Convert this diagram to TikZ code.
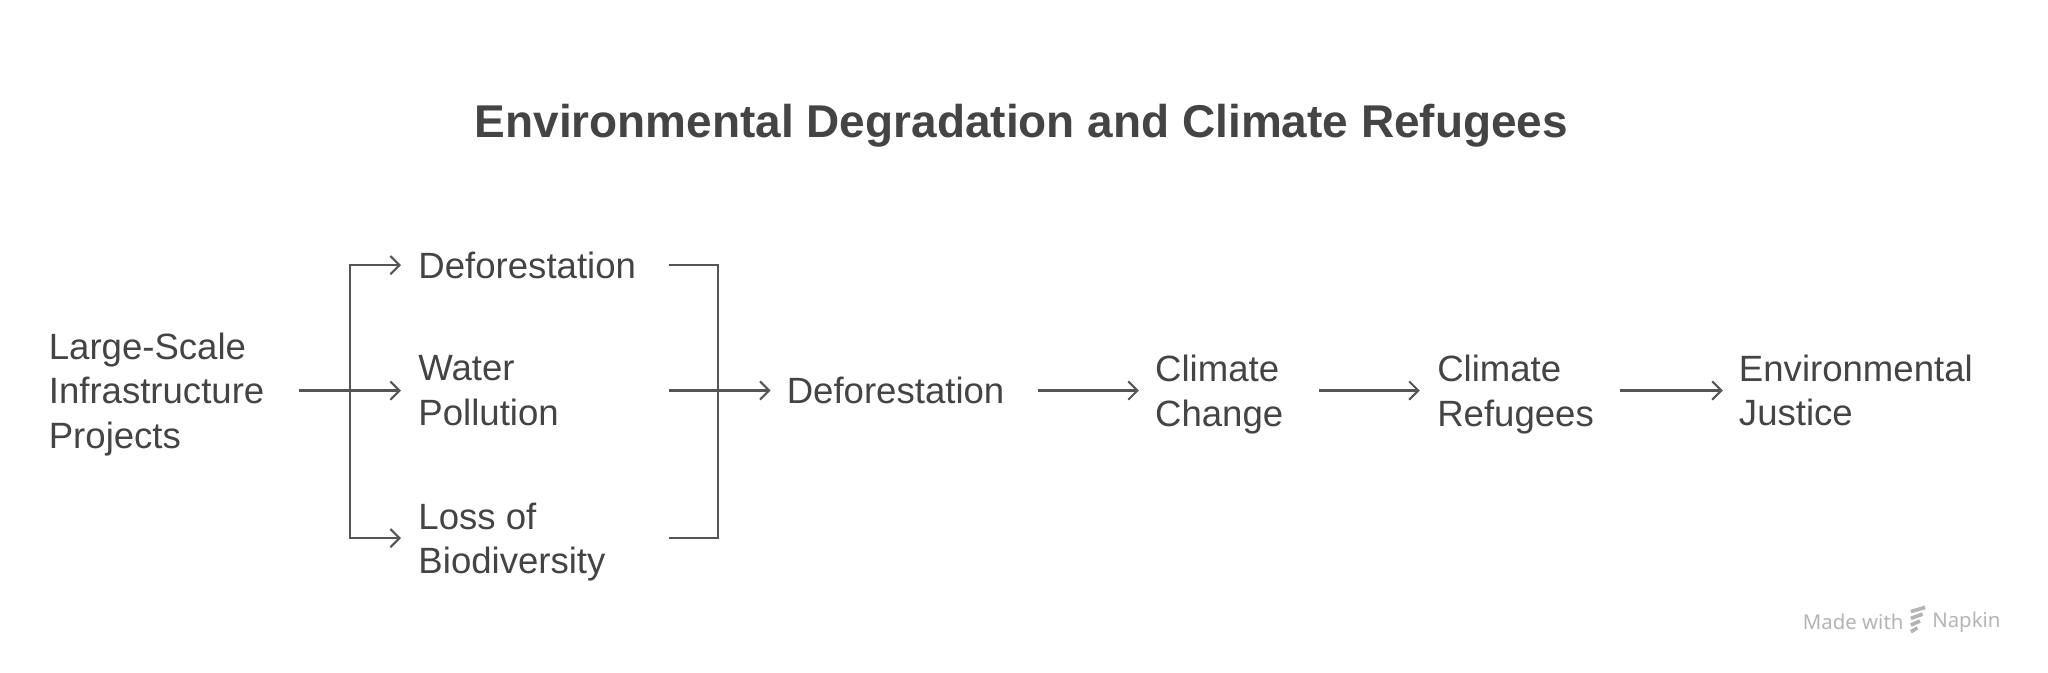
\documentclass[tikz,border=0pt]{standalone}
\usepackage{fontspec}
\setmainfont{Liberation Sans}
\newfontfamily\napkinfont{Noto Sans}
\usetikzlibrary{arrows.meta,positioning}
\definecolor{ink}{HTML}{444444}
\definecolor{wire}{HTML}{555555}
\definecolor{faint}{HTML}{B4B4B4}
\tikzset{
    %Define standard arrow tip
    >={Straight Barb[length=3.5pt,width=7pt]},
    %Define style for the labels
    factor/.style={
           anchor=west,
           align=left,
           inner sep=0pt,
           text=ink,
           font=\fontsize{14}{17}\selectfont},
    %labels whose last line has a descender
    lowfactor/.style={
           factor,
           yshift=-1.5pt},
    heading/.style={
           text=ink,
           inner sep=0pt,
           font=\fontsize{17.6}{21}\selectfont\bfseries},
    napkin/.style={
           anchor=west,
           inner sep=0pt,
           text=faint,
           font=\napkinfont\fontsize{7.8}{9}\selectfont},
    % Define arrow style
    flow/.style={
           ->,
           draw=wire,
           line width=0.8pt},
    bracket/.style={
           draw=wire,
           line width=0.8pt}
}

\begin{document}
\begin{tikzpicture}[x=0.5pt,y=-0.5pt]
\useasboundingbox (0,0) rectangle (1568,515);
 %title
\node[heading,anchor=base] (title) at (782,105) {Environmental Degradation and Climate Refugees};
 %nodes
\node[lowfactor] (src) at (37,299) {Large-Scale\\Infrastructure\\Projects};
\node[factor] (defo) at (320,203) {Deforestation};
\node[factor] (water) at (320,299) {Water\\Pollution};
\node[lowfactor] (bio) at (320,412) {Loss of\\Biodiversity};
\node[factor] (defo2) at (602,299) {Deforestation};
\node[lowfactor] (change) at (884,299) {Climate\\Change};
\node[lowfactor] (refug) at (1100,299) {Climate\\Refugees};
\node[factor] (justice) at (1331,299) {Environmental\\Justice};
 %joints
\coordinate (fork) at (268,299);
\coordinate (low) at (268,412);
\coordinate (tail) at (512,299);
\coordinate (merge) at (550,299);
 %edges
\draw[flow, shorten <=13pt, shorten >=6.5pt] (src.east |- fork) -- (water.west |- fork);
\draw[flow, shorten >=6.5pt] (fork) |- (defo);
\draw[flow, shorten >=6.5pt] (fork) |- (bio.west |- low);
\draw[bracket] (tail |- defo) -| (merge);
\draw[bracket] (tail |- low) -| (merge);
\draw[flow, shorten >=6pt] (tail) -- (defo2);
\draw[flow, shorten <=12.5pt, shorten >=6pt] (defo2) -- (change.west |- defo2);
\draw[flow, shorten <=13.5pt, shorten >=6.5pt] (change.east |- defo2) -- (refug.west |- defo2);
\draw[flow, shorten <=10pt, shorten >=6pt] (refug.east |- defo2) -- (justice.west |- defo2);
 %watermark
\node[napkin] (made) at (1380,476) {Made with};
\node[napkin] (brand) at (1479,476) {Napkin};
\foreach \i/\l in {0/11,1/9,2/7,3/5}
  \draw[faint, line width=1.4pt] ([xshift=-8pt,yshift={(1.5-\i)*2.6pt}]brand.west) -- ++(\l*0.5pt,1.6pt);
\end{tikzpicture}
\end{document}
